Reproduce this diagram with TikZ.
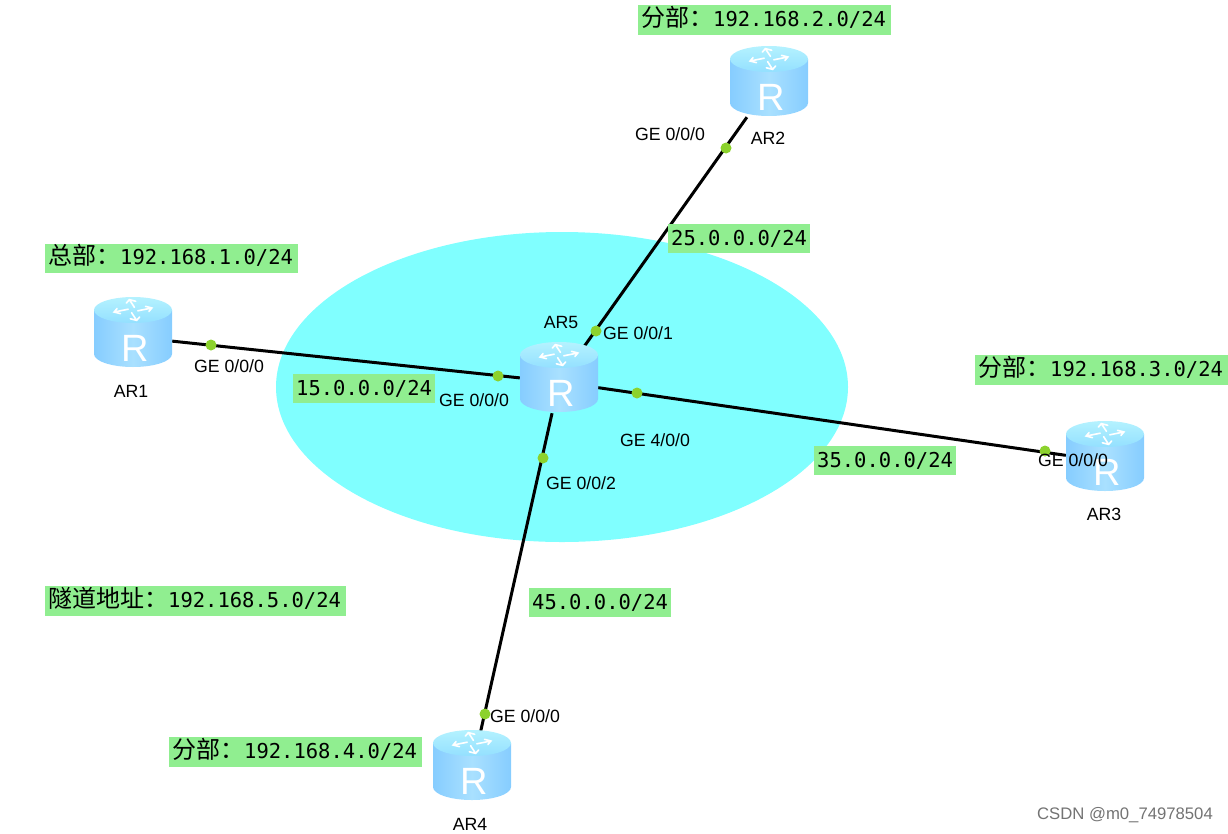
\documentclass[tikz,border=0pt]{standalone}
\usepackage{fontspec}
\setmainfont{Liberation Sans}
\newfontfamily\cjkfont{Noto Sans CJK SC}
\newfontfamily\monofont{DejaVu Sans Mono}
\definecolor{lanfill}{HTML}{80FFFF}
\definecolor{notefill}{HTML}{90EE90}
\definecolor{portdot}{HTML}{8CD22D}
\definecolor{routerside}{HTML}{86CDFF}
\definecolor{routermid}{HTML}{A9E0FF}
\definecolor{routertop}{HTML}{B4F2FF}
\definecolor{routerrim}{HTML}{94E0FF}
\tikzstyle{link}=[draw=black,line width=3pt]
\tikzstyle{anchorbox}=[inner sep=0pt,minimum width=78pt,minimum height=62pt]
\tikzstyle{port}=[circle,fill=portdot,inner sep=0pt,minimum size=11pt]
\tikzstyle{portlabel}=[inner sep=0pt,font=\fontsize{17.7}{17.7}\selectfont]
\tikzstyle{note}=[anchor=west,fill=notefill,inner sep=0pt,minimum height=29.5pt,align=left]
\tikzstyle{sitenote}=[note,text height=16pt,text depth=4pt]
\newcommand{\notecn}[2]{\hspace{3pt}{\cjkfont\fontsize{24}{24}\selectfont #1}{\monofont\fontsize{20.5}{20.5}\selectfont #2}\hspace{5pt}}
\newcommand{\notenet}[1]{\hspace{3pt}{\monofont\fontsize{20.5}{20.5}\selectfont #1}\hspace{3pt}}
\tikzset{
  routericon/.pic={
    \path[left color=routerside,right color=routerside,middle color=routermid]
      (-39,-27) -- (-39,17) arc[x radius=39,y radius=13,start angle=180,end angle=0]
      -- (39,-27) -- cycle;
    \path[top color=routertop,bottom color=routerrim]
      (0,-27) ellipse[x radius=39,y radius=13];
    \begin{scope}[shift={(0,-27)},yscale=0.55]
      \foreach \ang in {20,110,200,290}{
        \begin{scope}[rotate=\ang]
          \draw[white,line width=1.6pt,line cap=round] (4,3) -- (19,3) (14,-2) -- (19,3) -- (14,8);
        \end{scope}
      }
    \end{scope}
    \node[text=white,inner sep=0pt,font=\fontsize{38}{38}\selectfont] at (2,11) {R};
  }
}
\begin{document}
\begin{tikzpicture}[x=1pt,y=-1pt]
   \useasboundingbox (0,0) rectangle (1228,833);

   % shared network
   \fill[lanfill] (562,387) ellipse[x radius=286,y radius=155];

   % routers
   \node[anchorbox] (AR5) at (559,382) {};
   \node[anchorbox] (AR1) at (133,337) {};
   \node[anchorbox] (AR2) at (769,86) {};
   \node[anchorbox] (AR3) at (1105,461) {};
   \node[anchorbox] (AR4) at (472,770) {};

   % links
   \draw[link] (AR1) -- (AR5);
   \draw[link] (AR2) -- (AR5);
   \draw[link] (AR3) -- (AR5);
   \draw[link] (AR4) -- (AR5);

   \pic at (AR1) {routericon};
   \pic at (AR2) {routericon};
   \pic at (AR3) {routericon};
   \pic at (AR4) {routericon};
   \pic at (AR5) {routericon};

   % ports
   \node[port] (p1) at (211,345) {};
   \node[port] (p2) at (726,148) {};
   \node[port] (p3) at (596,331) {};
   \node[port] (p4) at (498,376) {};
   \node[port] (p5) at (637,393) {};
   \node[port] (p6) at (543,458) {};
   \node[port] (p7) at (1045,451) {};
   \node[port] (p8) at (485,714) {};

   \node[portlabel] (l1) at (229,366) {GE 0/0/0};
   \node[portlabel] (l2) at (670,134) {GE 0/0/0};
   \node[portlabel] (l3) at (638,333) {GE 0/0/1};
   \node[portlabel] (l4) at (474,400) {GE 0/0/0};
   \node[portlabel] (l5) at (655,440) {GE 4/0/0};
   \node[portlabel] (l6) at (581,483) {GE 0/0/2};
   \node[portlabel] (l7) at (1073,460) {GE 0/0/0};
   \node[portlabel] (l8) at (525,716) {GE 0/0/0};

   \node[portlabel] (n1) at (131,391) {AR1};
   \node[portlabel] (n2) at (768,138) {AR2};
   \node[portlabel] (n3) at (1104,514) {AR3};
   \node[portlabel] (n4) at (470,824) {AR4};
   \node[portlabel] (n5) at (561,322) {AR5};

   % notes
   \node[sitenote] (hq) at (45,258.5) {\notecn{总部：}{192.168.1.0/24}};
   \node[sitenote] (site2) at (638,20) {\notecn{分部：}{192.168.2.0/24}};
   \node[sitenote] (site3) at (975,370) {\notecn{分部：}{192.168.3.0/24}};
   \node[sitenote] (site4) at (169,752) {\notecn{分部：}{192.168.4.0/24}};
   \node[sitenote] (tunnel) at (45,601) {\notecn{隧道地址：}{192.168.5.0/24}};

   \node[note] (net25) at (668,238.5) {\notenet{25.0.0.0/24}};
   \node[note] (net15) at (293,388.5) {\notenet{15.0.0.0/24}};
   \node[note] (net35) at (814,460.5) {\notenet{35.0.0.0/24}};
   \node[note] (net45) at (529,602.5) {\notenet{45.0.0.0/24}};

   \node[inner sep=0pt,text=black!55,font=\fontsize{16.7}{16.7}\selectfont] (mark) at (1125,815) {CSDN @m0\_74978504};
\end{tikzpicture}
\end{document}
